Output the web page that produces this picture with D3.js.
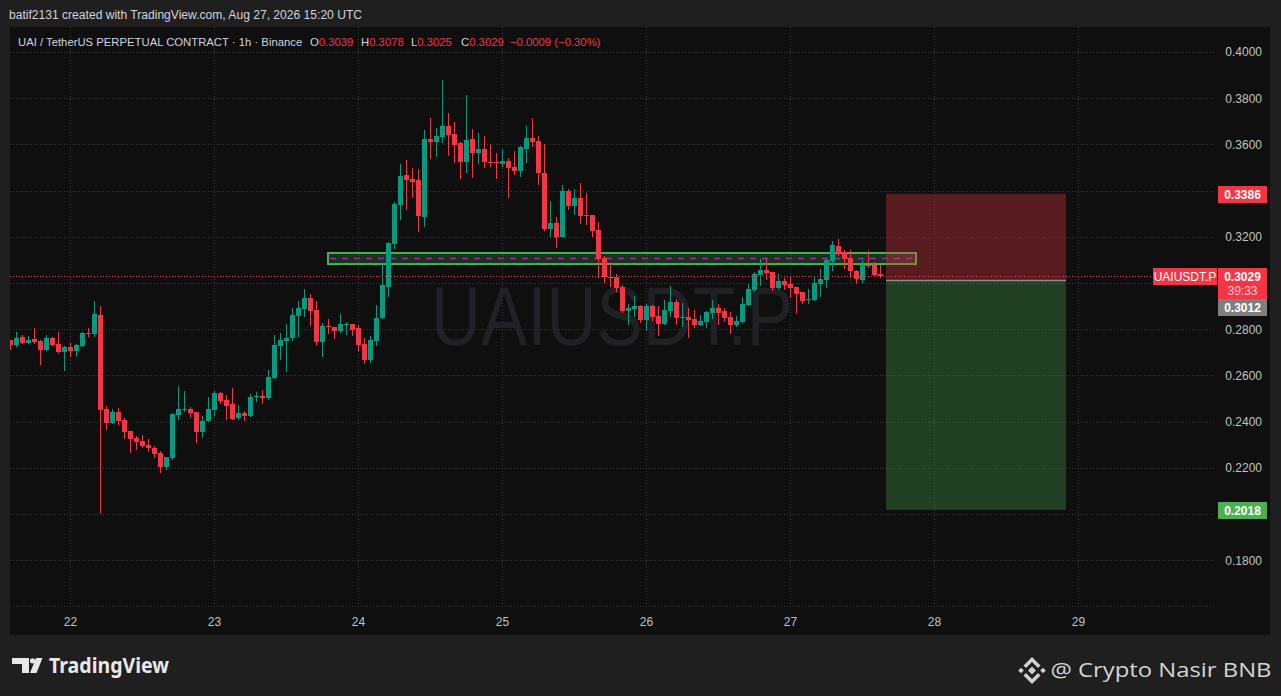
<!DOCTYPE html>
<html><head><meta charset="utf-8">
<script src="https://cdn.jsdelivr.net/npm/d3@7"></script>
<style>html,body{margin:0;padding:0;background:#1f1f1f;overflow:hidden}svg{display:block}</style>
</head><body><svg id="c" width="1281" height="696"></svg>
<script>
// ---------- DATA ----------
const firstCandle = Date.UTC(2026, 7, 21, 14); // Aug 21 14:00 UTC, 1h candles
const opens = [.2752,.2731,.2765,.2739,.2757,.2748,.2709,.2761,.2735,.2700,.2722,.2705,.2726,.2783,.2778,.2861,.2454,.2393,.2441,.2406,
.2358,.2328,.2315,.2298,.2285,.2263,.2202,.2241,.2428,.2449,.2454,.2441,.2354,.2402,.2449,.2523,.2493,.2475,.2416,.2436,
.2423,.2508,.2511,.2501,.2588,.2726,.2749,.2761,.2856,.2887,.2934,.2882,.2744,.2813,.2809,.2791,.2817,.2822,.2804,.2735,
.2666,.2748,.2848,.2982,.3168,.3337,.3467,.3450,.3445,.3285,.3623,.3610,.3631,.3679,.3644,.3605,.3523,.3623,.3562,.3579,
.3523,.3523,.3514,.3527,.3501,.3484,.3579,.3627,.3614,.3475,.3233,.3259,.3198,.3398,.3333,.3367,.3294,.3294,.3229,.3107,
.3025,.3025,.2982,.2878,.2887,.2900,.2839,.2900,.2856,.2822,.2878,.2917,.2852,.2852,.2843,.2817,.2830,.2869,.2891,.2878,
.2852,.2817,.2830,.2904,.2969,.3034,.3055,.3047,.2978,.3008,.2995,.2982,.2960,.2930,.2926,.2995,.3012,.3094,.3159,.3133,
.3107,.3051,.3012,.3077,.3077,.3039];
const highs = [.2755,.2787,.2774,.2770,.2804,.2752,.2774,.2765,.2787,.2726,.2739,.2735,.2787,.2804,.2921,.2900,.2467,.2454,.2458,.2415,
.2358,.2337,.2341,.2324,.2293,.2272,.2246,.2436,.2553,.2532,.2462,.2441,.2423,.2506,.2532,.2527,.2514,.2545,.2471,.2445,
.2519,.2527,.2536,.2622,.2774,.2783,.2822,.2891,.2921,.2973,.2952,.2921,.2826,.2843,.2809,.2865,.2830,.2822,.2817,.2761,
.2770,.2904,.3086,.3177,.3350,.3514,.3532,.3497,.3493,.3662,.3714,.3670,.3878,.3735,.3696,.3610,.3813,.3666,.3649,.3636,
.3601,.3562,.3579,.3540,.3571,.3592,.3679,.3714,.3636,.3601,.3354,.3285,.3424,.3406,.3406,.3432,.3389,.3294,.3263,.3116,
.3081,.3038,.2991,.2908,.2943,.2904,.2908,.2904,.2900,.2926,.2986,.2930,.2913,.2891,.2882,.2861,.2880,.2926,.2908,.2891,
.2874,.2856,.2939,.2995,.3047,.3103,.3103,.3047,.3038,.3021,.3029,.2982,.2960,.2973,.3029,.3060,.3103,.3181,.3190,.3142,
.3142,.3055,.3099,.3138,.3090,.3078];
const lows = [.2713,.2728,.2739,.2739,.2739,.2648,.2709,.2731,.2696,.2622,.2683,.2683,.2726,.2770,.2770,.2008,.2367,.2393,.2389,.2328,
.2267,.2280,.2289,.2272,.2246,.2181,.2194,.2237,.2410,.2445,.2419,.2311,.2332,.2402,.2428,.2480,.2410,.2410,.2410,.2406,
.2423,.2488,.2480,.2497,.2588,.2670,.2618,.2752,.2770,.2856,.2817,.2731,.2683,.2783,.2761,.2787,.2778,.2774,.2709,.2653,
.2657,.2731,.2848,.2943,.3151,.3276,.3320,.3372,.3224,.3246,.3540,.3549,.3610,.3553,.3523,.3454,.3480,.3458,.3519,.3501,
.3506,.3454,.3506,.3372,.3471,.3462,.3523,.3592,.3428,.3229,.3203,.3155,.3198,.3320,.3298,.3259,.3255,.3203,.3025,.3004,
.2986,.2965,.2874,.2822,.2856,.2830,.2796,.2839,.2774,.2822,.2856,.2822,.2813,.2765,.2809,.2817,.2809,.2848,.2822,.2835,
.2783,.2813,.2830,.2904,.2965,.2991,.3017,.2969,.2978,.2973,.2939,.2869,.2913,.2913,.2926,.2943,.2982,.3055,.3120,.3064,
.3025,.2999,.3004,.3068,.3034,.3025];
const closes = [.2731,.2761,.2739,.2752,.2744,.2709,.2761,.2731,.2700,.2722,.2705,.2731,.2783,.2780,.2865,.2449,.2393,.2441,.2402,.2354,
.2324,.2311,.2293,.2285,.2259,.2202,.2246,.2432,.2454,.2454,.2436,.2354,.2402,.2454,.2523,.2488,.2468,.2410,.2436,.2423,
.2506,.2511,.2503,.2592,.2731,.2752,.2761,.2861,.2891,.2934,.2878,.2744,.2813,.2809,.2791,.2822,.2822,.2796,.2731,.2666,
.2752,.2848,.2991,.3172,.3341,.3462,.3445,.3437,.3289,.3623,.3610,.3636,.3679,.3640,.3597,.3523,.3618,.3562,.3579,.3523,
.3522,.3522,.3527,.3497,.3484,.3588,.3627,.3610,.3475,.3233,.3259,.3198,.3398,.3333,.3367,.3291,.3291,.3224,.3103,.3025,
.3022,.2978,.2878,.2891,.2900,.2839,.2900,.2852,.2822,.2882,.2917,.2848,.2853,.2839,.2817,.2835,.2874,.2891,.2869,.2848,
.2817,.2835,.2908,.2973,.3038,.3055,.3042,.2978,.3008,.2991,.2978,.2952,.2921,.2932,.2999,.3017,.3099,.3164,.3129,.3103,
.3051,.3017,.3077,.3073,.3034,.3029];
const dayLabels = ["22","23","24","25","26","27","28","29"];
const priceTicks = [0.16,0.18,0.20,0.22,0.24,0.26,0.28,0.30,0.32,0.34,0.36,0.38,0.40];
const lastPrice = 0.3029, entryPrice = 0.3012, stopPrice = 0.3386, targetPrice = 0.2018;
const zoneTop = 0.3130, zoneBottom = 0.3082;
const headerText = "batif2131 created with TradingView.com, Aug 27, 2026 15:20 UTC";
const symbolText = "UAI / TetherUS PERPETUAL CONTRACT · 1h · Binance";
const ohlcLabels = ["O","H","L","C"];
const ohlcValues = ["0.3039","0.3078","0.3025","0.3029"];
const changeText = "−0.0009 (−0.30%)";
const countdown = "39:33";
const tickerName = "UAIUSDT.P";

// ---------- LAYOUT ----------
const UP = "#089981", DOWN = "#f23645";
const svg = d3.select("#c");
const font = "'Liberation Sans', Arial, sans-serif";
const plot = {l:10, t:27, r:1215, b:608};

svg.append("rect").attr("width",1281).attr("height",696).attr("fill","#1f1f1f");
svg.append("rect").attr("x",10).attr("y",27).attr("width",1260).attr("height",608).attr("fill","#0f0f0f");

const x = d3.scaleUtc().domain([new Date(Date.UTC(2026,7,22)), new Date(Date.UTC(2026,7,29))]).range([70,1078]);
const y = d3.scaleLinear().domain([0.18,0.40]).range([560.2,52]);

const defs = svg.append("defs");
defs.append("clipPath").attr("id","pc").append("rect")
  .attr("x",plot.l).attr("y",plot.t).attr("width",plot.r-plot.l).attr("height",plot.b-plot.t);

const candles = opens.map((o,i)=>({t:new Date(firstCandle + i*3600000), o, h:highs[i], l:lows[i], c:closes[i]}));
const days = dayLabels.map((d,i)=>new Date(Date.UTC(2026,7,22+i)));

const g = svg.append("g").attr("clip-path","url(#pc)");
// grid
g.selectAll(".hg").data(priceTicks).join("line")
  .attr("x1",plot.l).attr("x2",plot.r)
  .attr("y1",d=>Math.round(y(d))+0.5).attr("y2",d=>Math.round(y(d))+0.5)
  .attr("stroke","#3a3a3a").attr("stroke-dasharray","1,2");
g.selectAll(".vg").data(days).join("line")
  .attr("x1",d=>Math.round(x(d))+0.5).attr("x2",d=>Math.round(x(d))+0.5)
  .attr("y1",plot.t).attr("y2",plot.b)
  .attr("stroke","#3a3a3a").attr("stroke-dasharray","1,2");

// watermark
g.append("text").attr("x",431).attr("y",345).text(tickerName)
  .attr("font-family",font).attr("font-size",84).attr("fill","#202124")
  .attr("textLength",362).attr("lengthAdjust","spacingAndGlyphs");

// zone rectangle
const zx1 = x(new Date(Date.UTC(2026,7,23,19))), zx2 = x(new Date(Date.UTC(2026,7,27,21)));
g.append("rect").attr("x",zx1).attr("y",y(zoneTop)).attr("width",zx2-zx1).attr("height",y(zoneBottom)-y(zoneTop))
  .attr("fill","rgba(76,175,80,0.22)").attr("stroke","#4caf50").attr("stroke-width",2);
g.append("line").attr("x1",zx1+2).attr("x2",zx2-2)
  .attr("y1",y((zoneTop+zoneBottom)/2)).attr("y2",y((zoneTop+zoneBottom)/2))
  .attr("stroke","#9c27b0").attr("stroke-width",1.5).attr("stroke-dasharray","6,6");

// candles
const cg = g.append("g");
candles.forEach(d=>{
  const xc = Math.round(x(d.t));
  const col = d.c >= d.o ? UP : DOWN;
  cg.append("line").attr("x1",xc+0.5).attr("x2",xc+0.5)
    .attr("y1",Math.round(y(d.h))).attr("y2",Math.round(y(d.l))+1).attr("stroke",col).attr("stroke-width",1);
  const yt = Math.round(y(Math.max(d.o,d.c))), yb = Math.round(y(Math.min(d.o,d.c)));
  cg.append("rect").attr("x",xc-2).attr("width",5).attr("y",yt).attr("height",Math.max(1,yb-yt)).attr("fill",col);
});

// position tool (short)
const px1 = x(new Date(Date.UTC(2026,7,27,16))), px2 = x(new Date(Date.UTC(2026,7,28,22)));
g.append("rect").attr("x",px1).attr("width",px2-px1).attr("y",y(stopPrice)).attr("height",y(entryPrice)-y(stopPrice))
  .attr("fill","rgba(242,54,69,0.32)");
g.append("rect").attr("x",px1).attr("width",px2-px1).attr("y",y(entryPrice)).attr("height",y(targetPrice)-y(entryPrice))
  .attr("fill","rgba(76,175,80,0.3)");
g.append("line").attr("x1",px1).attr("x2",px2).attr("y1",Math.round(y(entryPrice))+0.5).attr("y2",Math.round(y(entryPrice))+0.5)
  .attr("stroke","#8a8d96").attr("stroke-width",1.5);

// last price line
svg.append("line").attr("x1",plot.l).attr("x2",1153).attr("y1",Math.round(y(lastPrice))+0.5).attr("y2",Math.round(y(lastPrice))+0.5)
  .attr("stroke",DOWN).attr("stroke-dasharray","1,2");

// price axis
const hidden = [0.16,0.20,0.30,0.34];
const ya = svg.append("g").attr("transform","translate(1262,0)")
  .call(d3.axisRight(y).tickValues(priceTicks.filter(p=>!hidden.some(h=>Math.abs(h-p)<1e-9))).tickFormat(d3.format(".4f")).tickSize(0).tickPadding(0));
ya.select(".domain").remove();
ya.selectAll("text").attr("text-anchor","end").attr("fill","#c3c3c3").attr("font-family",font).attr("font-size",12);

// time axis
const xa = svg.append("g").attr("transform",`translate(0,${plot.b})`)
  .call(d3.axisBottom(x).tickValues(days).tickFormat((d,i)=>dayLabels[i]).tickSize(0).tickPadding(9));
xa.select(".domain").remove();
xa.selectAll("text").attr("fill","#c3c3c3").attr("font-family",font).attr("font-size",12);

// price label boxes
function box(x0,y0,w,h,fill,txt,col,bold){
  svg.append("rect").attr("x",x0).attr("y",y0).attr("width",w).attr("height",h).attr("fill",fill);
  if(txt) svg.append("text").attr("x",x0+w/2).attr("y",y0+h/2+4.3).attr("text-anchor","middle")
    .attr("fill",col).attr("font-family",font).attr("font-size",12).attr("font-weight",bold?"bold":"normal").text(txt);
}
const fmt = d3.format(".4f");
box(1218, Math.round(y(stopPrice))-8, 49, 17, DOWN, fmt(stopPrice), "#fff", true);
box(1153, Math.round(y(lastPrice))-8, 64, 17, DOWN, tickerName, "#fff", false);
box(1218, Math.round(y(lastPrice))-8, 49, 31, DOWN, null);
svg.append("text").attr("x",1242.5).attr("y",Math.round(y(lastPrice))+4.5).attr("text-anchor","middle")
  .attr("fill","#fff").attr("font-family",font).attr("font-size",12).attr("font-weight","bold").text(fmt(lastPrice));
svg.append("text").attr("x",1242.5).attr("y",Math.round(y(lastPrice))+19).attr("text-anchor","middle")
  .attr("fill","#ffc9cd").attr("font-family",font).attr("font-size",12).text(countdown);
box(1218, Math.round(y(lastPrice))+23, 49, 17, "#7f7f7f", fmt(entryPrice), "#fff", true);
box(1218, Math.round(y(targetPrice))-8, 49, 17, "#4caf50", fmt(targetPrice), "#fff", true);

// header texts
svg.append("text").attr("x",9).attr("y",19).text(headerText).attr("fill","#d1d4dc")
  .attr("font-family",font).attr("font-size",12).attr("textLength",353).attr("lengthAdjust","spacingAndGlyphs");
// symbol line: one text element with positioned spans
const st = svg.append("text").attr("y",45.5).attr("font-family",font).attr("font-size",11.3);
st.append("tspan").attr("x",18).attr("fill","#d1d4dc").text(symbolText);
const lx = [310,361,411,461];
ohlcLabels.forEach((l,i)=>{
  st.append("tspan").attr("x",lx[i]).attr("fill","#d1d4dc").text(l);
  st.append("tspan").attr("fill",DOWN).text(ohlcValues[i]);
});
st.append("tspan").attr("x",510).attr("fill",DOWN).text(changeText);

// footer: TradingView logo
const lg = svg.append("g").attr("fill","#e8e8e8");
lg.append("path").attr("d","M12,658 H29 V673 H22 V664 H12 Z");
lg.append("circle").attr("cx",32.5).attr("cy",660.8).attr("r",2.6);
lg.append("path").attr("d","M36,658 H42.5 L36.5,673 H30 Z");
svg.append("text").attr("x",49).attr("y",673).text("TradingView").attr("fill","#e8e8e8")
  .attr("font-family","'Noto Sans', 'Open Sans', sans-serif").attr("font-size",21).attr("font-weight","bold")
  .attr("textLength",120).attr("lengthAdjust","spacingAndGlyphs");

// footer: Binance logo + author
const bg = svg.append("g").attr("transform","translate(1032,670.5)").attr("fill","#d0d0d0");
bg.append("path").attr("d","M0,-4 L4,0 L0,4 L-4,0 Z");
bg.append("path").attr("d","M-11,-2.8 L-8.2,0 L-11,2.8 L-13.8,0 Z");
bg.append("path").attr("d","M11,-2.8 L13.8,0 L11,2.8 L8.2,0 Z");
bg.append("path").attr("d","M0,-13.5 L8.5,-5 L6,-2.5 L0,-8.5 L-6,-2.5 L-8.5,-5 Z");
bg.append("path").attr("d","M0,13.5 L8.5,5 L6,2.5 L0,8.5 L-6,2.5 L-8.5,5 Z");
svg.append("text").attr("x",1050.5).attr("y",677).text("@ Crypto Nasir BNB").attr("fill","#d4d4d4")
  .attr("font-family","'Open Sans', 'Noto Sans', sans-serif").attr("font-size",20)
  .attr("textLength",221).attr("lengthAdjust","spacingAndGlyphs");
</script>
</body></html>
